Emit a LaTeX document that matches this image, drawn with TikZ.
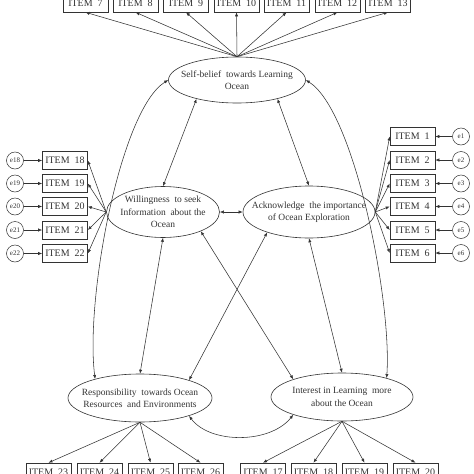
\documentclass[tikz,border=0pt]{standalone}
\usepackage{fontspec}
\setmainfont{Liberation Serif}
\usetikzlibrary{arrows.meta,shapes.geometric}
\definecolor{ink}{gray}{0.2}
\begin{document}
\begin{tikzpicture}[x=1pt,y=-1pt,
  every node/.style={text=ink},
  item/.style={draw=ink, line width=0.6pt, minimum width=45pt, minimum height=18pt, inner sep=0pt, font=\fontsize{10}{12}\selectfont},
  lat/.style={draw=ink, ellipse, line width=0.6pt, inner sep=0pt},
  lattext/.style={align=center, inner sep=0pt, font=\fontsize{9.5}{12.5}\selectfont},
  err/.style={draw=ink, circle, line width=0.5pt, minimum size=17pt, inner sep=0pt, font=\fontsize{7}{8}\selectfont},
  arr/.style={draw=ink, line width=0.55pt, -{Latex[length=4pt,width=3.2pt]}},
  barr/.style={draw=ink, line width=0.55pt, {Latex[length=4pt,width=3.2pt]}-{Latex[length=4pt,width=3.2pt]}}]
\useasboundingbox (0,0) rectangle (474,474);
\clip (0,0) rectangle (474,474);

% latent variables
\node[lat, minimum width=137pt, minimum height=46pt,
  label={[lattext]center:Self-belief\ \ towards Learning\\Ocean}] (SB) at (237,80) {};
\node[lat, minimum width=113pt, minimum height=51pt,
  label={[lattext]center:Willingness\ \ to seek\\Information\ \ about the\\Ocean}] (WI) at (163,212) {};
\node[lat, minimum width=132pt, minimum height=52pt,
  label={[lattext]center:Acknowledge\ \ the importance\\of Ocean Exploration}] (AC) at (309,212) {};
\node[lat, minimum width=144pt, minimum height=48pt,
  label={[lattext]center:Responsibility\ \ towards Ocean\\Resources\ \ and Environments}] (RE) at (140,398) {};
\node[lat, minimum width=142pt, minimum height=48pt,
  label={[lattext]center:Interest in Learning\ \ more\\about the Ocean}] (IN) at (342,397) {};

% top items (Self-belief)
\foreach \n/\x in {7/85.5,8/135.5,9/186,10/236.5,11/286.5,12/337.5,13/388}{
  \node[item] (T\n) at (\x,3) {ITEM\ \ \n};
  \draw[arr] (SB.north) -- (T\n.south);
}

% left items (Willingness)
\foreach \n/\y in {18/160.5,19/183.5,20/206.5,21/230,22/253.5}{
  \node[item] (W\n) at (65,\y) {ITEM\ \ \n};
  \node[err] (e\n) at (15,\y) {e\n};
  \draw[arr] (e\n) -- (W\n);
  \draw[arr] (WI.west) -- (W\n.east);
}

% right items (Acknowledge)
\foreach \n/\y in {1/136.5,2/160,3/183.5,4/206.5,5/230,6/253}{
  \node[item] (A\n) at (412.5,\y) {ITEM\ \ \n};
  \node[err] (e\n) at (461,\y) {e\n};
  \draw[arr] (e\n) -- (A\n);
  \draw[arr] (AC.east) -- (A\n.west);
}

% bottom items (Responsibility)
\foreach \n/\x in {23/48.5,24/99.5,25/150.5,26/200.5}{
  \node[item] (R\n) at (\x,472) {ITEM\ \ \n};
  \draw[arr] (RE.south) -- (R\n.north);
}
% bottom items (Interest)
\foreach \n/\x in {17/263,18/313.5,19/364.5,20/415.5}{
  \node[item] (N\n) at (\x,472) {ITEM\ \ \n};
  \draw[arr] (IN.south) -- (N\n.north);
}

% covariances
\draw[barr] (SB.205) -- (WI.north);
\draw[barr] (SB.-25) -- (AC.north);
\draw[barr] (SB.west) .. controls (120,110) and (85,300) .. (RE.157);
\draw[barr] (SB.east) .. controls (354,110) and (392,300) .. (IN.23);
\draw[barr] (WI.east) -- (AC.west);
\draw[barr] (WI.south) -- (RE.north);
\draw[barr] (AC.south) -- (IN.north);
\draw[barr] (WI.-27) -- (IN.160);
\draw[barr] (AC.206) -- (RE.20);
\draw[barr] (RE.-20) .. controls (210,444) and (270,444) .. (IN.200);
\end{tikzpicture}
\end{document}
